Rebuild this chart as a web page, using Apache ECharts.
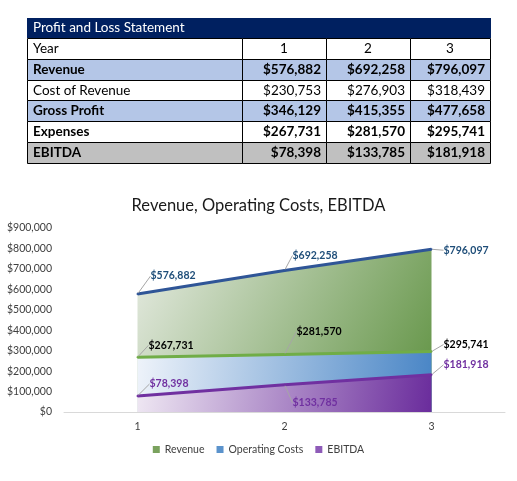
<!DOCTYPE html>
<html>
<head>
<meta charset="utf-8">
<script src="https://cdn.jsdelivr.net/npm/echarts@6/dist/echarts.min.js"></script>
<style>
html,body{margin:0;padding:0;background:#fff;}
#chart{width:517px;height:481px;}
</style>
</head>
<body>
<div id="chart"></div>
<script>
// ---- data ----
const tableTitle = 'Profit and Loss Statement';
const years = ['1', '2', '3'];
const revenue = [576882, 692258, 796097];
const costOfRevenue = [230753, 276903, 318439];
const grossProfit = [346129, 415355, 477658];
const expenses = [267731, 281570, 295741];
const ebitda = [78398, 133785, 181918];
const chartTitle = 'Revenue, Operating Costs, EBITDA';
const seriesNames = ['Revenue', 'Operating Costs', 'EBITDA'];
const yTicks = [0, 900000, 100000]; // min, max, interval

// ---- helpers ----
const FONT = 'Lato, "Noto Sans", sans-serif';
function money(v) { return '$' + Number(v).toLocaleString('en-US'); }

const tableRows = [
  { name: 'Year', vals: years, fill: '#ffffff', bold: false, plain: true },
  { name: 'Revenue', vals: revenue, fill: '#b4c6e7', bold: true },
  { name: 'Cost of Revenue', vals: costOfRevenue, fill: '#ffffff', bold: false },
  { name: 'Gross Profit', vals: grossProfit, fill: '#b4c6e7', bold: true },
  { name: 'Expenses', vals: expenses, fill: '#ffffff', bold: true },
  { name: 'EBITDA', vals: ebitda, fill: '#c0c0c0', bold: true }
];

// table layout
const colEdges = [27, 242, 326, 410, 490];
const headTop = 18, headBot = 38, rowH = 20.8;
const graphics = [];
graphics.push({
  type: 'rect', shape: { x: colEdges[0], y: headTop, width: colEdges[4] - colEdges[0] + 1, height: headBot - headTop },
  style: { fill: '#002060' }
});
graphics.push({
  type: 'text', x: 33, y: (headTop + headBot) / 2,
  style: { text: tableTitle, fill: '#ffffff', font: '13.5px ' + FONT, verticalAlign: 'middle', align: 'left' }
});
tableRows.forEach((row, r) => {
  const y0 = Math.round(headBot + r * rowH) + 0.5;
  const y1 = Math.round(headBot + (r + 1) * rowH) + 0.5;
  for (let c = 0; c < 4; c++) {
    graphics.push({
      type: 'rect', shape: { x: colEdges[c] + 0.5, y: y0, width: colEdges[c + 1] - colEdges[c], height: y1 - y0 },
      style: { fill: row.fill, stroke: '#000000', lineWidth: 1 }
    });
  }
  const weight = row.bold ? 'bold ' : '';
  graphics.push({
    type: 'text', x: 33, y: (y0 + y1) / 2,
    style: { text: row.name, fill: '#000', font: weight + '13.5px ' + FONT, verticalAlign: 'middle', align: 'left' }
  });
  row.vals.forEach((v, c) => {
    const plain = row.plain;
    graphics.push({
      type: 'text',
      x: plain ? (colEdges[c + 1] + colEdges[c + 2]) / 2 : colEdges[c + 2] - 5,
      y: (y0 + y1) / 2,
      style: { text: plain ? v : money(v), fill: '#000', font: weight + '13.5px ' + FONT, verticalAlign: 'middle', align: plain ? 'center' : 'right' }
    });
  });
});

// label offsets (left edge x / centre y relative to point)
const labelOffsets = [
  [[13, -18], [8, -15], [12, 1]],
  [[11, -12], [12, -23], [12, -7]],
  [[12, -12], [8, 18], [12, -10]]
];
const labelColors = ['#1f4e79', '#000000', '#7030a0'];
const lineColors = ['#2f5597', '#70ad47', '#7030a0'];
const areaColors = [
  { type: 'linear', x: 0, y: 0, x2: 1, y2: 1, colorStops: [{ offset: 0, color: '#e6ebe2' }, { offset: 1, color: '#5e9140' }] },
  { type: 'linear', x: 0, y: 0, x2: 1, y2: 0.4, colorStops: [{ offset: 0, color: '#eef3fa' }, { offset: 1, color: '#4a86c6' }] },
  { type: 'linear', x: 0, y: 0, x2: 1, y2: 1, colorStops: [{ offset: 0, color: '#efe8f3' }, { offset: 1, color: '#6a2c9c' }] }
];
const legendColors = ['#7aa25e', '#5b93cc', '#8e5bb8'];
const seriesData = [revenue, expenses, ebitda];

const series = seriesData.map((d, i) => ({
  name: seriesNames[i],
  type: 'line',
  data: d,
  z: 2 + i,
  symbol: 'circle',
  symbolSize: 2,
  showSymbol: true,
  itemStyle: { color: lineColors[i] },
  lineStyle: { color: lineColors[i], width: 3 },
  areaStyle: { color: areaColors[i], opacity: 1 },
  label: {
    show: true,
    color: labelColors[i],
    fontFamily: FONT,
    fontWeight: 'bold',
    fontSize: 10.5,
    formatter: p => money(p.value)
  },
  labelLine: { show: true, lineStyle: { color: '#a6a6a6', width: 1 } },
  labelLayout: function (params) {
    const o = labelOffsets[i][params.dataIndex];
    const cx = params.rect.x + params.rect.width / 2;
    const cy = params.rect.y + params.rect.height / 2;
    return { x: cx + o[0], y: cy + o[1], align: 'left', verticalAlign: 'middle' };
  },
  emphasis: { disabled: true }
}));

const chart = echarts.init(document.getElementById('chart'));
chart.setOption({
  animation: false,
  backgroundColor: '#ffffff',
  textStyle: { fontFamily: FONT },
  title: {
    text: chartTitle, left: 'center', top: 192,
    textStyle: { fontFamily: FONT, fontSize: 16.5, fontWeight: 'normal', color: '#1a1a1a' }
  },
  legend: {
    bottom: 21, left: 'center',
    icon: 'rect', itemWidth: 7, itemHeight: 7, itemGap: 12,
    textStyle: { fontFamily: FONT, fontSize: 10.5, color: '#404040' },
    data: seriesNames.map((n, i) => ({ name: n, itemStyle: { color: legendColors[i] } }))
  },
  grid: { left: 64, right: 12, top: 228, bottom: 69 },
  xAxis: {
    type: 'category', data: years, boundaryGap: true,
    axisLine: { lineStyle: { color: '#d9d9d9' } },
    axisTick: { show: false },
    axisLabel: { color: '#404040', fontFamily: FONT, fontSize: 10.5, margin: 9 }
  },
  yAxis: {
    type: 'value', min: yTicks[0], max: yTicks[1], interval: yTicks[2],
    axisLine: { show: false }, axisTick: { show: false }, splitLine: { show: false },
    axisLabel: { color: '#404040', fontFamily: FONT, fontSize: 10.5, margin: 12, formatter: v => money(v) }
  },
  graphic: graphics,
  series: series
});
</script>
</body>
</html>
